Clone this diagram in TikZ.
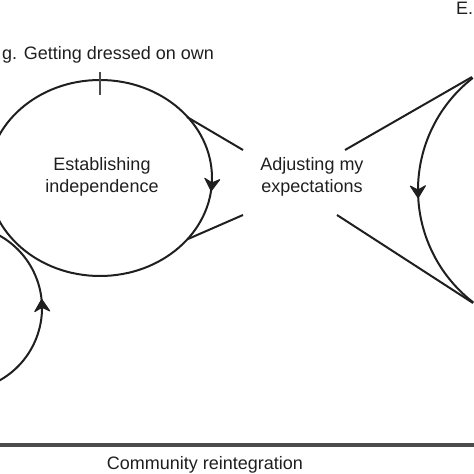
\documentclass[tikz,border=0pt]{standalone}
\usepackage{fontspec}
\setmainfont{Liberation Sans}
\usetikzlibrary{arrows.meta,decorations.markings}
\begin{document}
\begin{tikzpicture}[x=1pt,y=1pt,
  curve/.style={line width=2pt, draw=black!88},
  lbl/.style={font=\fontsize{18}{22}\selectfont, text=black!88, inner sep=0pt, align=center},
  midarrow/.style={postaction={decorate}, decoration={markings, mark=at position #1 with {\filldraw[black!88, line width=1pt, line join=round] (5pt,0pt) -- (-7pt,7.5pt) -- (-3pt,0pt) -- (-7pt,-7.5pt) -- cycle;}}}
]
\useasboundingbox (0,0) rectangle (474,474);
\clip (0,0) rectangle (474,474);
% main loop: establishing independence
\draw[curve, midarrow=0.262] (100,394) arc[start angle=90, end angle=-270, x radius=112, y radius=98];
\draw[line width=1.3pt, black!70] (100,379) -- (100,402);
\coordinate (t1) at (187,357);
\coordinate (t2) at (243,324);
\coordinate (b1) at (188,235);
\coordinate (b2) at (243,259);
\draw[curve] (t1) -- (t2);
\draw[curve] (b1) -- (b2);
% right crescent
\coordinate (rt1) at (345,324);
\coordinate (rt2) at (472,397);
\coordinate (rb1) at (337,259);
\coordinate (rb2) at (473,171);
\draw[curve] (rt1) -- (rt2);
\draw[curve] (rb1) -- (rb2);
\draw[curve, midarrow=0.51] (560,284) ++(127.9:142) arc[start angle=127.9, end angle=232.4, radius=142];
% lower-left loop
\draw[curve, midarrow=0.52] (-41,166) ++(-64:83) arc[start angle=-64, end angle=64, radius=83];
% baseline
\draw[line width=3.5pt, black!70] (0,29) -- (474,29);
% texts
\node[lbl, anchor=base west] (eg) at (2,414) {g. Getting dressed on own};
\node[lbl, anchor=base west] (E) at (456,459) {E.};
\node[lbl] (indep) at (102,297.5) {Establishing\\independence};
\node[lbl] (adjust) at (312,297.5) {Adjusting my\\expectations};
\node[lbl, anchor=base] (comm) at (205,5) {Community reintegration};
\end{tikzpicture}
\end{document}
